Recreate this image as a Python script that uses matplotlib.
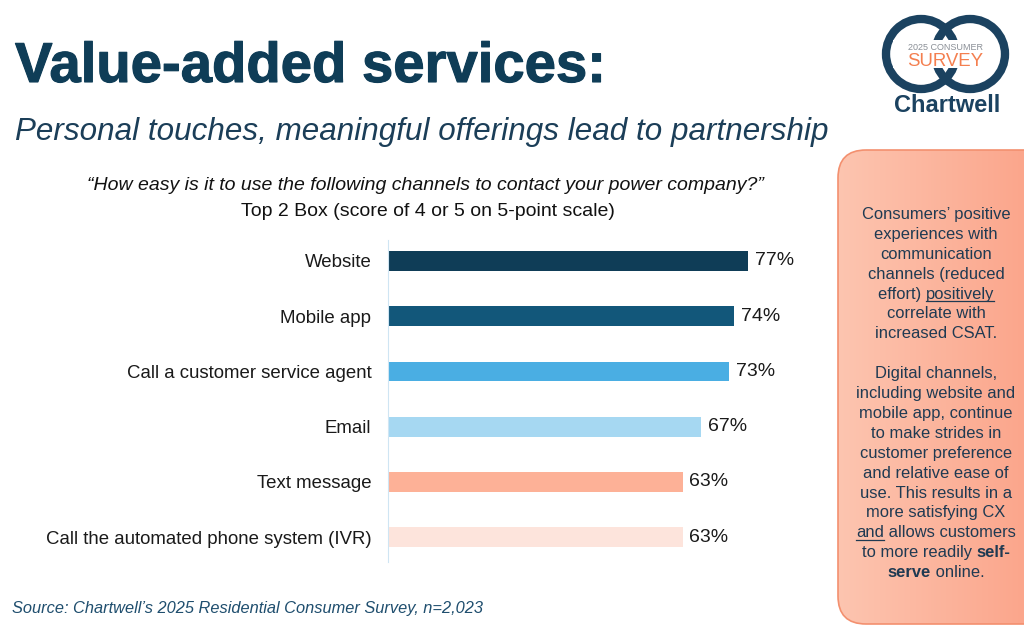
import numpy as np
import matplotlib
matplotlib.use('Agg')
import matplotlib.pyplot as plt
import matplotlib.patheffects as pe
from matplotlib.patches import FancyBboxPatch, Circle, Rectangle
from matplotlib.colors import LinearSegmentedColormap

plt.rcParams['font.family'] = ['Liberation Sans', 'DejaVu Sans']

# data
channels = ['Website', 'Mobile app', 'Call a customer service agent', 'Email',
            'Text message', 'Call the automated phone system (IVR)']
values = [77, 74, 73, 67, 63, 63]
bar_colors = ['#0f3d57', '#12577a', '#4aaee3', '#a6d8f2', '#fdb197', '#fde4dc']

navy = '#0f3d57'
W, H = 1024, 628
fig = plt.figure(figsize=(W / 100, H / 100), dpi=100)

# background axes in pixel coords for the text / decorations
bg = fig.add_axes([0, 0, 1, 1])
bg.set_xlim(0, W)
bg.set_ylim(H, 0)
bg.axis('off')

bg.text(15, 82, 'Value-added services:', fontsize=40.5, fontweight='bold',
        color=navy, va='baseline', ha='left',
        path_effects=[pe.Stroke(linewidth=0.8, foreground=navy), pe.Normal()])
bg.text(15, 140, 'Personal touches, meaningful offerings lead to partnership',
        fontsize=22.6, style='italic', color='#1b3e58', va='baseline', ha='left')
bg.text(425, 186, '\u201cHow easy is it to use the following channels to contact your power company?\u201d',
        fontsize=14, style='italic', color='#111111', va='center', ha='center')
bg.text(428, 211, 'Top 2 Box (score of 4 or 5 on 5-point scale)',
        fontsize=14, color='#111111', va='center', ha='center')
bg.text(12, 608, 'Source: Chartwell\u2019s 2025 Residential Consumer Survey, n=2,023',
        fontsize=11.8, style='italic', color='#1f4e6e', va='center', ha='left')

# side box with gradient
box = FancyBboxPatch((838, 150), 220, 474, boxstyle='round,pad=0,rounding_size=28',
                     facecolor='none', edgecolor='#f3906f', linewidth=1.2, zorder=3)
bg.add_patch(box)
grad = np.linspace(0, 1, 256).reshape(1, -1)
cmap = LinearSegmentedColormap.from_list('box', ['#fdc5b0', '#fba68c'])
im = bg.imshow(grad, cmap=cmap, extent=[838, 1024, 624, 150], aspect='auto', zorder=2)
im.set_clip_path(box)
bg.set_xlim(0, W)
bg.set_ylim(H, 0)

renderer = fig.canvas.get_renderer()
box_color = '#1f3a52'
fs = 11.9


def seg_width(s, weight):
    t1 = bg.text(0, 0, s + '|', fontsize=fs, fontweight=weight)
    t2 = bg.text(0, 0, '|', fontsize=fs, fontweight=weight)
    w = t1.get_window_extent(renderer).width - t2.get_window_extent(renderer).width
    t1.remove()
    t2.remove()
    return w


def draw_line(xc, y, segs):
    widths = [seg_width(s, wt) for s, wt, ul in segs]
    x = xc - sum(widths) / 2
    for (s, wt, ul), w in zip(segs, widths):
        bg.text(x, y, s, fontsize=fs, fontweight=wt, color=box_color,
                va='baseline', ha='left', zorder=5)
        if ul:
            bg.plot([x, x + w], [y + 2.5, y + 2.5], color=box_color, lw=0.9, zorder=5)
        x += w


lines = [
    [('Consumers\u2019 positive', 'normal', False)],
    [('experiences with', 'normal', False)],
    [('communication', 'normal', False)],
    [('channels (reduced', 'normal', False)],
    [('effort) ', 'normal', False), ('positively', 'normal', True)],
    [('correlate with', 'normal', False)],
    [('increased CSAT.', 'normal', False)],
    None,
    [('Digital channels,', 'normal', False)],
    [('including website and', 'normal', False)],
    [('mobile app, continue', 'normal', False)],
    [('to make strides in', 'normal', False)],
    [('customer preference', 'normal', False)],
    [('and relative ease of', 'normal', False)],
    [('use. This results in a', 'normal', False)],
    [('more satisfying CX', 'normal', False)],
    [('and', 'normal', True), (' allows customers', 'normal', False)],
    [('to more readily ', 'normal', False), ('self-', 'bold', False)],
    [('serve', 'bold', False), (' online.', 'normal', False)],
]
y = 219
for ln in lines:
    if ln is not None:
        draw_line(936, y, ln)
    y += 19.9

# logo
ring_col = '#1b4260'
for cx in (921, 970):
    bg.add_patch(Circle((cx, 54), 35, facecolor='none', edgecolor=ring_col, lw=6, zorder=2))
bg.add_patch(Rectangle((893, 40), 104, 28, facecolor='white', edgecolor='none', zorder=3))
bg.text(945, 47, '2025 CONSUMER', fontsize=6.5, color='#8a8f96', ha='center', va='center', zorder=4)
bg.text(945, 61, 'SURVEY', fontsize=13.4, color='#f47f4f', ha='center', va='center', zorder=4)
bg.text(947, 106, 'Chartwell', fontsize=17, fontweight='bold', color=ring_col,
        ha='center', va='center', zorder=4)

# bar chart
ax = fig.add_axes([388 / W, (H - 562) / H, 467.5 / W, 322 / H])
ax.patch.set_alpha(0)
y_pos = np.arange(len(channels))
ax.barh(y_pos, values, height=0.36, color=bar_colors)
ax.set_xlim(0, 100)
ax.set_ylim(5.45, -0.38)
ax.set_yticks(y_pos)
ax.set_yticklabels(channels, fontsize=13.4, color='#1a1a1a')
ax.tick_params(axis='y', length=0, pad=12)
ax.set_xticks([])
for s in ('top', 'right', 'bottom'):
    ax.spines[s].set_visible(False)
ax.spines['left'].set_color('#cfe5f3')
for i, v in enumerate(values):
    ax.annotate(f'{v}%', (v, i), xytext=(5, 0), textcoords='offset points',
                va='center', ha='left', fontsize=14, color='#1a1a1a')

fig.savefig('out.png', dpi=100)
